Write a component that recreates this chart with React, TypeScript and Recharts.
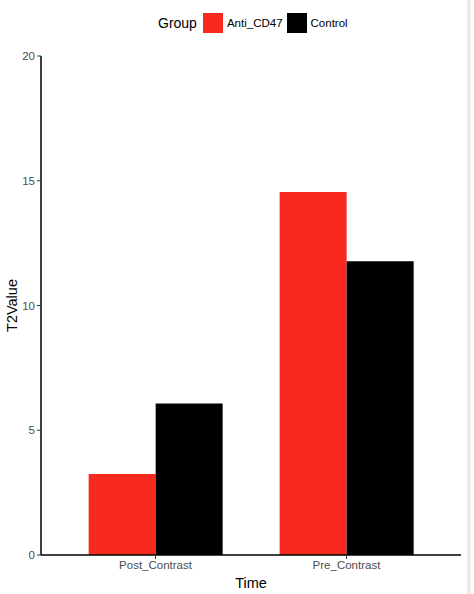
import React from 'react';
import { BarChart, Bar, XAxis, YAxis } from 'recharts';

const categories = ['Post_Contrast', 'Pre_Contrast'];
const antiCD47 = [3.25, 14.55];
const control = [6.07, 11.77];
const yTicks = [0, 5, 10, 15, 20];
const groups = [
  { key: 'Anti_CD47', color: '#F8291F' },
  { key: 'Control', color: '#000000' },
];

const data = categories.map((c, i) => ({ time: c, Anti_CD47: antiCD47[i], Control: control[i] }));

const FONT = '"Liberation Sans", Arial, Helvetica, sans-serif';

export default function App() {
  return (
    <div style={{ position: 'absolute', left: 0, top: 0, width: 474, height: 594, background: '#fff', fontFamily: FONT }}>
      <div style={{ position: 'absolute', left: 467, top: 0, width: 4, height: 594, background: '#ececec' }} />
      <div style={{ position: 'absolute', top: 13, left: 158, height: 20, display: 'flex', alignItems: 'center', whiteSpace: 'nowrap' }}>
        <span style={{ fontSize: 14, color: '#000', marginRight: 6 }}>Group</span>
        {groups.map((g) => (
          <span key={g.key} style={{ display: 'flex', alignItems: 'center', marginRight: 4 }}>
            <span style={{ display: 'inline-block', width: 20, height: 20, background: g.color, marginRight: 4 }} />
            <span style={{ fontSize: 11.5, color: '#000' }}>{g.key}</span>
          </span>
        ))}
      </div>
      <BarChart
        width={474}
        height={594}
        data={data}
        margin={{ top: 56, right: 13, bottom: 0, left: 0 }}
        barCategoryGap="15%"
        barGap={0}
      >
        <XAxis
          dataKey="time"
          height={39}
          padding={{ left: 19, right: 19 }}
          axisLine={{ stroke: '#000', strokeWidth: 1.5 }}
          tickLine={{ stroke: '#333' }}
          tickSize={4}
          tick={{ fill: '#4d4d4d', stroke: 'none', fontSize: 11.5, fontFamily: FONT }}
          label={{ value: 'Time', position: 'insideBottom', offset: 6, fill: '#000', fontSize: 14.5, fontFamily: FONT }}
        />
        <YAxis
          width={41}
          domain={[0, 20]}
          ticks={yTicks}
          interval={0}
          axisLine={{ stroke: '#000', strokeWidth: 1.5 }}
          tickLine={{ stroke: '#333' }}
          tickSize={4}
          tick={{ fill: '#4d4d4d', stroke: 'none', fontSize: 11.5, fontFamily: FONT }}
          label={{
            content: (props: any) => {
              const vb = props.viewBox || {};
              const cy = (vb.y || 0) + (vb.height || 0) / 2;
              return (
                <text x={17} y={cy} transform={`rotate(-90, 17, ${cy})`} textAnchor="middle" fill="#000" fontSize={14.5} fontFamily={FONT}>
                  T2Value
                </text>
              );
            },
          }}
        />
        {groups.map((g) => (
          <Bar key={g.key} dataKey={g.key} fill={g.color} isAnimationActive={false} />
        ))}
      </BarChart>
    </div>
  );
}
